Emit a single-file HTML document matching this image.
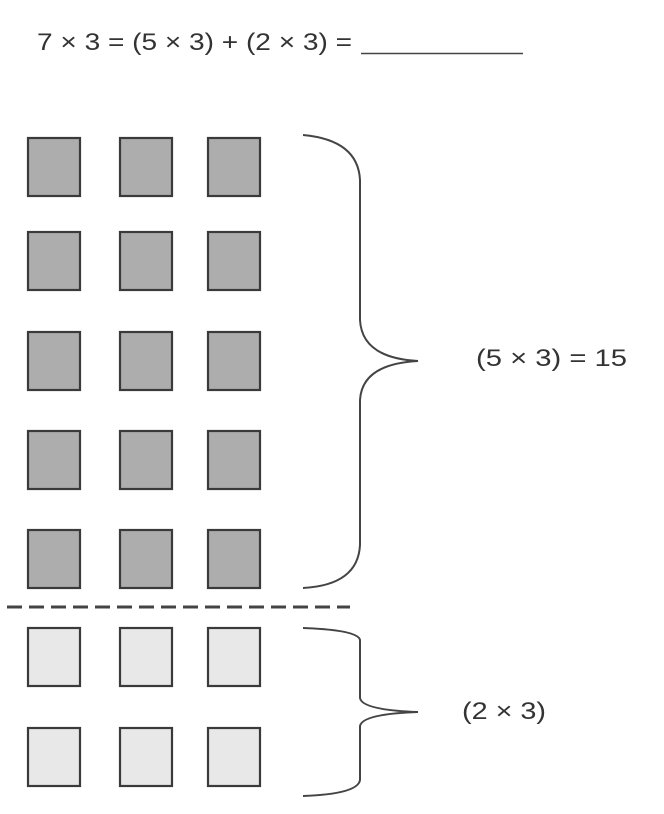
<!DOCTYPE html>
<html><head><style>html,body{margin:0;padding:0;background:#fff;}</style></head>
<body>
<svg width="664" height="809" viewBox="0 0 664 809" xmlns="http://www.w3.org/2000/svg">
<g font-family="Liberation Sans, sans-serif" font-size="24" fill="#333">
<text x="37" y="50" textLength="315" lengthAdjust="spacingAndGlyphs">7 × 3 = (5 × 3) + (2 × 3) =</text>
<text x="476" y="366" textLength="151" lengthAdjust="spacingAndGlyphs">(5 × 3) = 15</text>
<text x="462" y="719" textLength="84" lengthAdjust="spacingAndGlyphs">(2 × 3)</text>
</g>
<line x1="361" y1="53.5" x2="523" y2="53.5" stroke="#444" stroke-width="1.5"/>
<g stroke="#3a3a3a" stroke-width="2.2" fill="#adadad">
<rect x="28" y="138" width="52" height="58"/><rect x="120" y="138" width="52" height="58"/><rect x="208" y="138" width="52" height="58"/>
<rect x="28" y="232" width="52" height="58"/><rect x="120" y="232" width="52" height="58"/><rect x="208" y="232" width="52" height="58"/>
<rect x="28" y="332" width="52" height="58"/><rect x="120" y="332" width="52" height="58"/><rect x="208" y="332" width="52" height="58"/>
<rect x="28" y="431" width="52" height="58"/><rect x="120" y="431" width="52" height="58"/><rect x="208" y="431" width="52" height="58"/>
<rect x="28" y="530" width="52" height="58"/><rect x="120" y="530" width="52" height="58"/><rect x="208" y="530" width="52" height="58"/>
</g>
<g stroke="#3a3a3a" stroke-width="2.2" fill="#e8e8e8">
<rect x="28" y="628" width="52" height="58"/><rect x="120" y="628" width="52" height="58"/><rect x="208" y="628" width="52" height="58"/>
<rect x="28" y="728" width="52" height="58"/><rect x="120" y="728" width="52" height="58"/><rect x="208" y="728" width="52" height="58"/>
</g>
<line x1="7" y1="607" x2="350" y2="607" stroke="#444" stroke-width="3" stroke-dasharray="15 7"/>
<g fill="none" stroke="#444" stroke-width="2">
<path d="M303 135 Q358 140 360 180 L360 320 Q362 358 418 361 Q362 364 360 400 L360 545 Q358 585 303 588"/>
<path d="M303 628 Q358 630 360 640 L360 698 Q362 710 418 712 Q362 714 360 726 L360 780 Q358 794 303 796"/>
</g>
</svg>
</body></html>
